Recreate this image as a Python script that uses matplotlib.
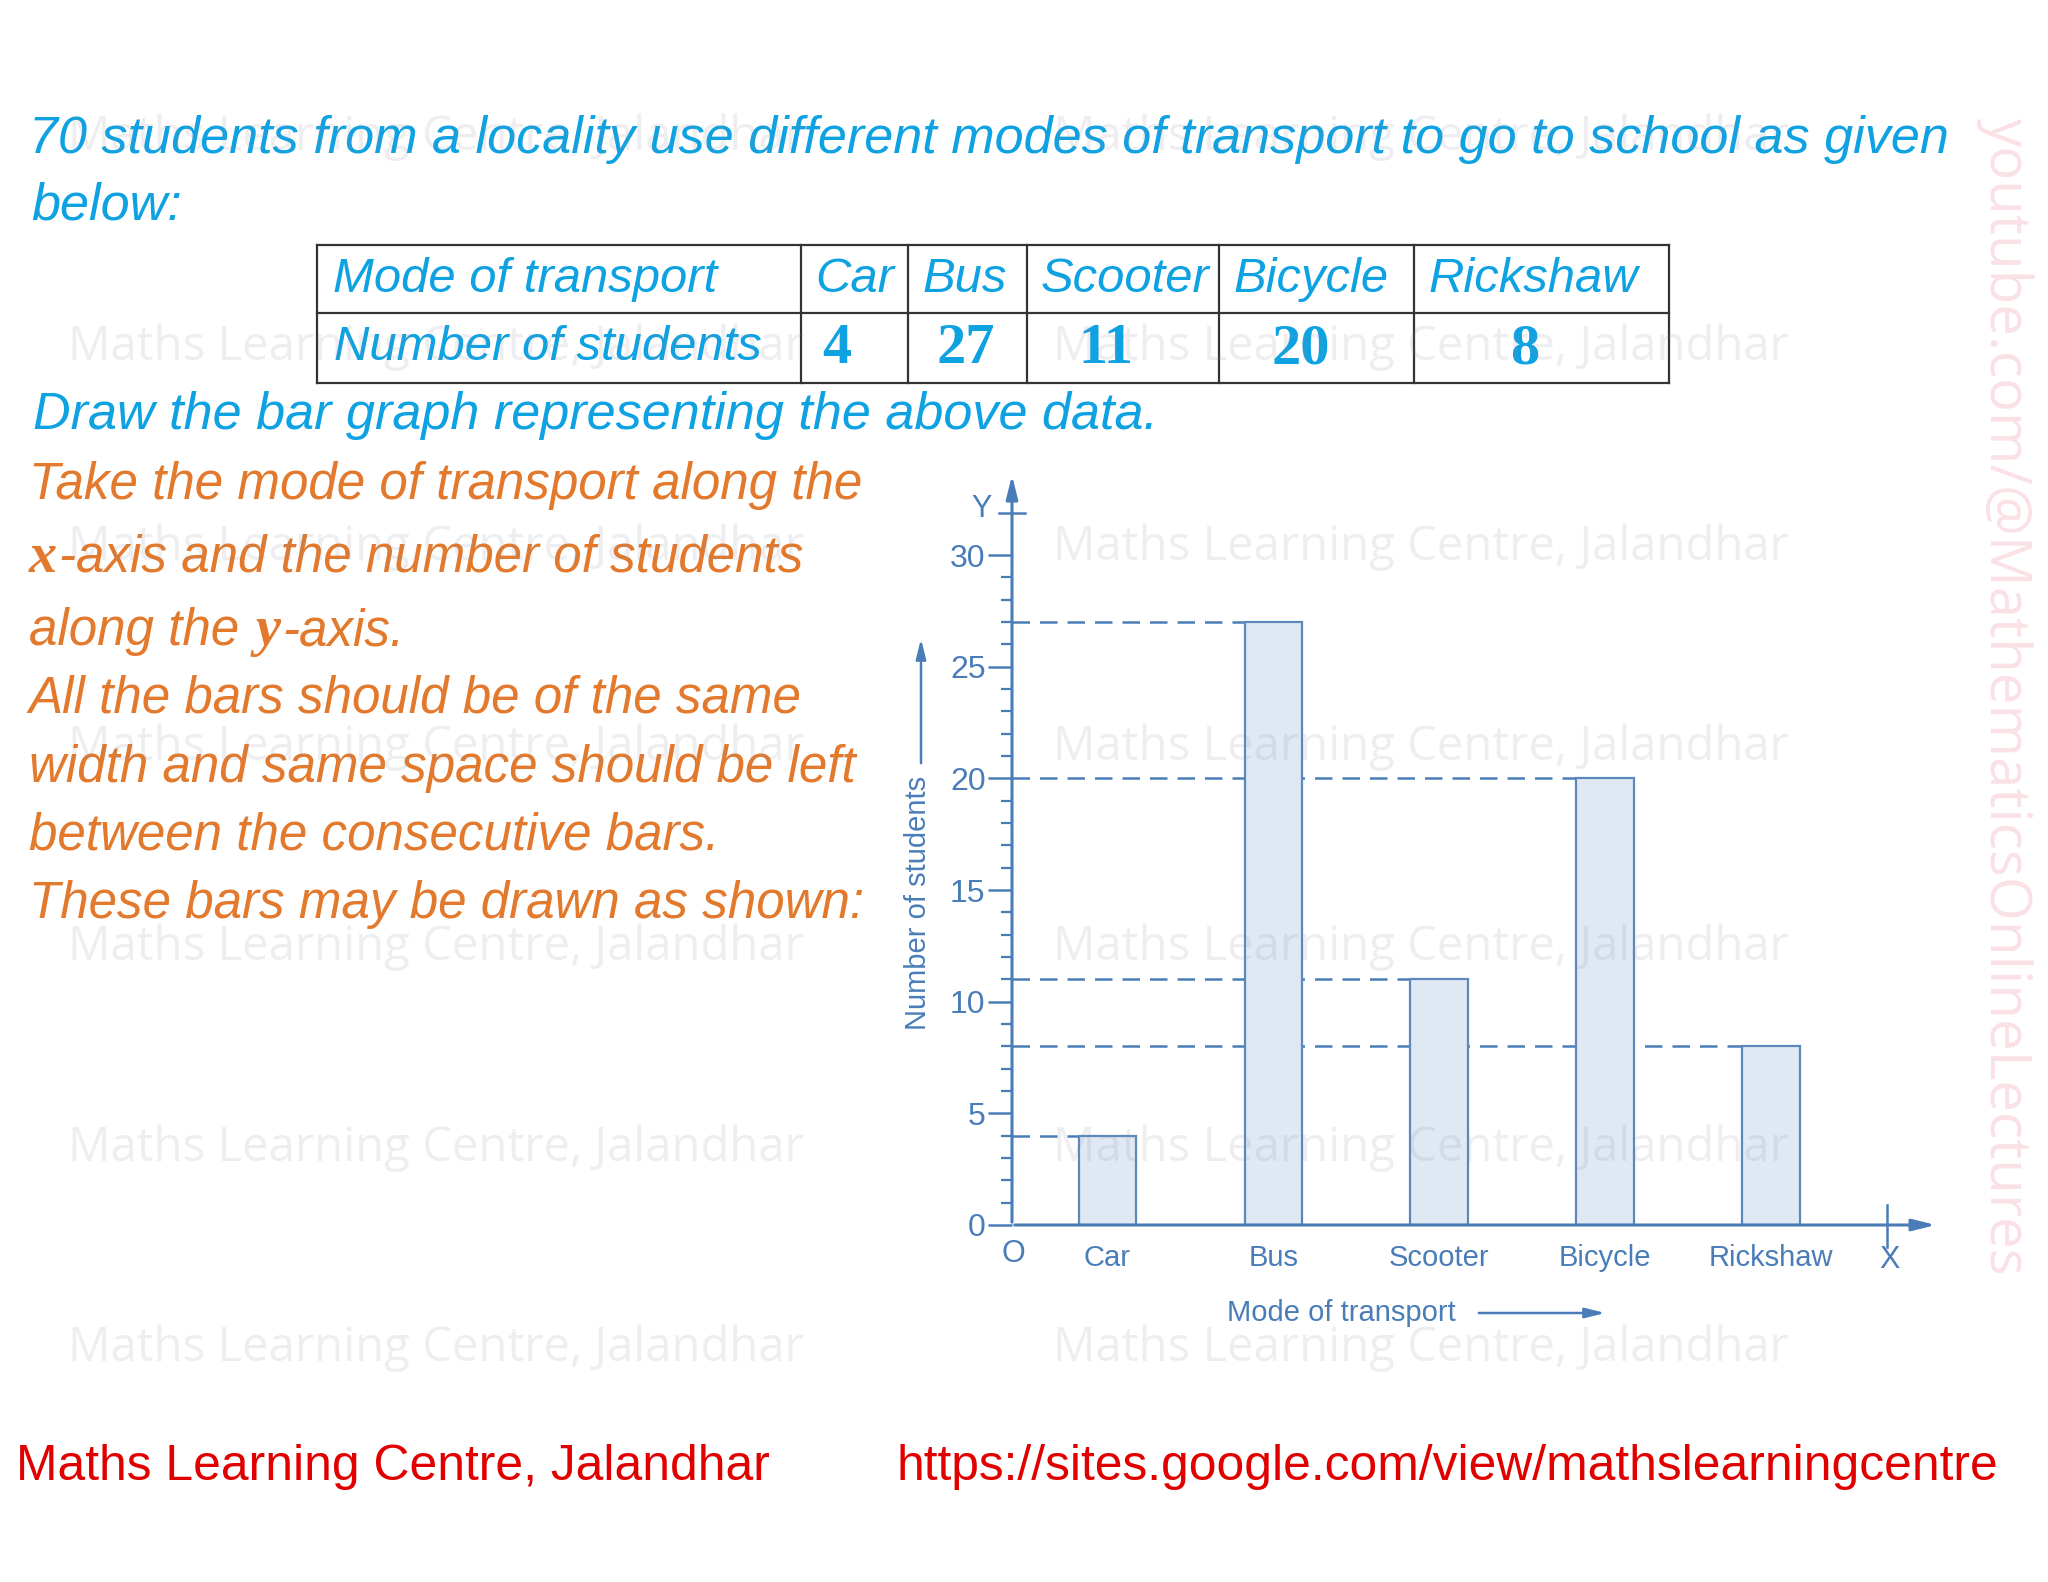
import matplotlib
matplotlib.use('Agg')
import matplotlib.pyplot as plt
from matplotlib.ticker import FixedLocator

# data
modes = ["Car", "Bus", "Scooter", "Bicycle", "Rickshaw"]
students = [4, 27, 11, 20, 8]
y_major = [0, 5, 10, 15, 20, 25, 30]
y_minor = list(range(0, 31))

title_lines = ["70 students from a locality use different modes of transport to go to school as given",
               "below:"]
table_head = ["Mode of transport", "Number of students"]
task_line = "Draw the bar graph representing the above data."
# tuples: parts of a line, the single letters are drawn in bold serif
hint_lines = ["Take the mode of transport along the",
              ("x", "-axis and the number of students"),
              ("along the ", "y", "-axis."),
              "All the bars should be of the same",
              "width and same space should be left",
              "between the consecutive bars.",
              "These bars may be drawn as shown:"]
watermark = "Maths Learning Centre, Jalandhar"
side_text = "youtube.com/@MathematicsOnlineLectures"
footer_left = "Maths Learning Centre, Jalandhar"
footer_right = "https://sites.google.com/view/mathslearningcentre"

W, H = 2048, 1582
CYAN = "#0ea2e2"
ORANGE = "#e2792c"
BLUE = "#4a7db8"
HAND = ["Liberation Sans", "DejaVu Sans"]
PLAIN = ["Liberation Sans", "DejaVu Sans"]

fig = plt.figure(figsize=(W / 100, H / 100), dpi=100)
fig.patch.set_facecolor("white")
renderer = fig.canvas.get_renderer()


def fx(x):
    return x / W


def fy(y):
    return 1 - y / H


def put(x, y, s, size, width=None, **kw):
    # text at pixel position (from top-left); optionally scaled to a pixel width
    t = fig.text(fx(x), fy(y), s, fontsize=size, **kw)
    if width is not None:
        bb = t.get_window_extent(renderer)
        w = bb.height if kw.get("rotation") else bb.width
        t.set_fontsize(size * width / w)
    return t


# title text
t = put(29, 140, title_lines[0], 28, width=1917, color=CYAN, family=HAND,
        style="italic", va="center")
hand_size = t.get_fontsize()
put(31, 206, title_lines[1], hand_size, color=CYAN, family=HAND, style="italic", va="center")

# table
col_edges = [317, 801, 908, 1027, 1219, 1414, 1669]
row_edges = [245, 313, 383]
num_x = [837, 966, 1106, 1301, 1525]
for xe in col_edges:
    fig.add_artist(plt.Line2D([fx(xe)] * 2, [fy(row_edges[0]), fy(row_edges[-1])],
                              color="#333333", lw=1.6))
for ye in row_edges:
    fig.add_artist(plt.Line2D([fx(col_edges[0]), fx(col_edges[-1])], [fy(ye)] * 2,
                              color="#333333", lw=1.6))
row_y = [279, 347]
cell_size = hand_size * 0.94
put(333, row_y[0], table_head[0], cell_size, color=CYAN, family=HAND, style="italic", va="center")
put(334, row_y[1], table_head[1], cell_size, color=CYAN, family=HAND, style="italic", va="center")
for i, (m, n) in enumerate(zip(modes, students)):
    put(col_edges[i + 1] + 14, row_y[0], m, cell_size, color=CYAN, family=HAND,
        style="italic", va="center")
    put(num_x[i], row_y[1] + 2, str(n), 42, color=CYAN, family="Liberation Serif",
        weight="bold", ha="center", va="center")

put(33, 415, task_line, hand_size, color=CYAN, family=HAND, style="italic", va="center")

# orange hints
hint_y = [499, 572, 645, 713, 782, 850, 918]
t = put(29, hint_y[0], hint_lines[0], 28, width=833, color=ORANGE, family=HAND,
        style="italic", va="baseline")
osize = t.get_fontsize()
for line, y in zip(hint_lines[1:], hint_y[1:]):
    if isinstance(line, str):
        put(29, y, line, osize, color=ORANGE, family=HAND, style="italic", va="baseline")
        continue
    x = 29
    for part in line:
        if part in ("x", "y"):
            tt = put(x, y, part, osize * 1.1, color=ORANGE, family="Liberation Serif",
                     weight="bold", style="italic", va="baseline")
        else:
            tt = put(x, y, part, osize, color=ORANGE, family=HAND, style="italic",
                     va="baseline")
        x += tt.get_window_extent(renderer).width + 2

# chart axes
x0, x1 = 0.425, 6.1
y0, y1 = 0, 34.5
px_x, px_y = 165.9, 22.33
ax = fig.add_axes([fx(1012), (H - 1225) / H, (x1 - x0) * px_x / W, (y1 - y0) * px_y / H])
ax.set_xlim(x0, x1)
ax.set_ylim(y0, y1)
ax.patch.set_alpha(0)
for s in ax.spines.values():
    s.set_visible(False)

pos = list(range(1, len(modes) + 1))
bw = 0.347
ax.bar(pos, students, width=bw, color="#dfe8f3", edgecolor="#5b88bd", lw=1.6, zorder=3)
for p, v in zip(pos, students):
    ax.plot([x0, p - bw / 2], [v, v], color=BLUE, lw=1.8, dashes=(7, 4), zorder=2,
            clip_on=False)

arrow = dict(arrowstyle="-|>,head_length=1.4,head_width=0.35", color=BLUE, lw=2.2)
ax.annotate("", xy=(x0, 33.7), xytext=(x0, 0), arrowprops=arrow, annotation_clip=False)
ax.annotate("", xy=(6.01, 0), xytext=(x0, 0), arrowprops=arrow, annotation_clip=False)
ax.plot([x0 - 0.08, x0 + 0.08], [31.9, 31.9], color=BLUE, lw=1.8, clip_on=False)
ax.plot([5.70, 5.70], [-1.0, 0.9], color=BLUE, lw=1.8, clip_on=False)

ax.yaxis.set_major_locator(FixedLocator(y_major))
ax.yaxis.set_minor_locator(FixedLocator(y_minor))
ax.tick_params(axis="y", which="major", length=17, width=1.8, color=BLUE, labelcolor=BLUE,
               labelsize=23, pad=2)
ax.tick_params(axis="y", which="minor", length=8, width=1.6, color=BLUE)
ax.set_xticks(pos, modes)
ax.tick_params(axis="x", length=0, labelcolor=BLUE, labelsize=21, pad=14)
for lab in ax.get_xticklabels() + ax.get_yticklabels():
    lab.set_family(PLAIN)

put(1013, 1254, "O", 22, color=BLUE, family=PLAIN, ha="center", va="center")
put(1890, 1260, "X", 22, color=BLUE, family=PLAIN, ha="center", va="center")
put(982, 509, "Y", 22, color=BLUE, family=PLAIN, ha="center", va="center")
put(918, 903, "Number of students", 21, color=BLUE, family=PLAIN,
    rotation=90, ha="center", va="center")
put(1341, 1313, "Mode of transport", 21, color=BLUE, family=PLAIN, ha="center", va="center")
small_arrow = dict(arrowstyle="-|>,head_length=1.2,head_width=0.3", color=BLUE, lw=1.8)
ax.annotate("", xy=(fx(921), fy(636)), xytext=(fx(921), fy(766)), xycoords="figure fraction",
            arrowprops=small_arrow, annotation_clip=False)
ax.annotate("", xy=(fx(1608), fy(1313)), xytext=(fx(1476), fy(1313)), xycoords="figure fraction",
            arrowprops=small_arrow, annotation_clip=False)

# watermarks
wm_rows = [137, 347, 547, 747, 947, 1148, 1348]
for y in wm_rows:
    for xl in (68, 1053):
        put(xl, y, watermark, 30, width=735, color="#8a8aa0", alpha=0.14, family="Open Sans",
            va="center", zorder=10)
put(2005, 118, side_text, 38, width=1155, color="#f3a9b5", alpha=0.35, family="Open Sans",
    rotation=-90, ha="center", va="top")

# footer
put(16, 1467, footer_left, 30, width=751, color="#e10000", family=PLAIN, va="center")
put(897, 1467, footer_right, 30, width=1097, color="#e10000", family=PLAIN, va="center")

fig.savefig("out.png", dpi=100)
